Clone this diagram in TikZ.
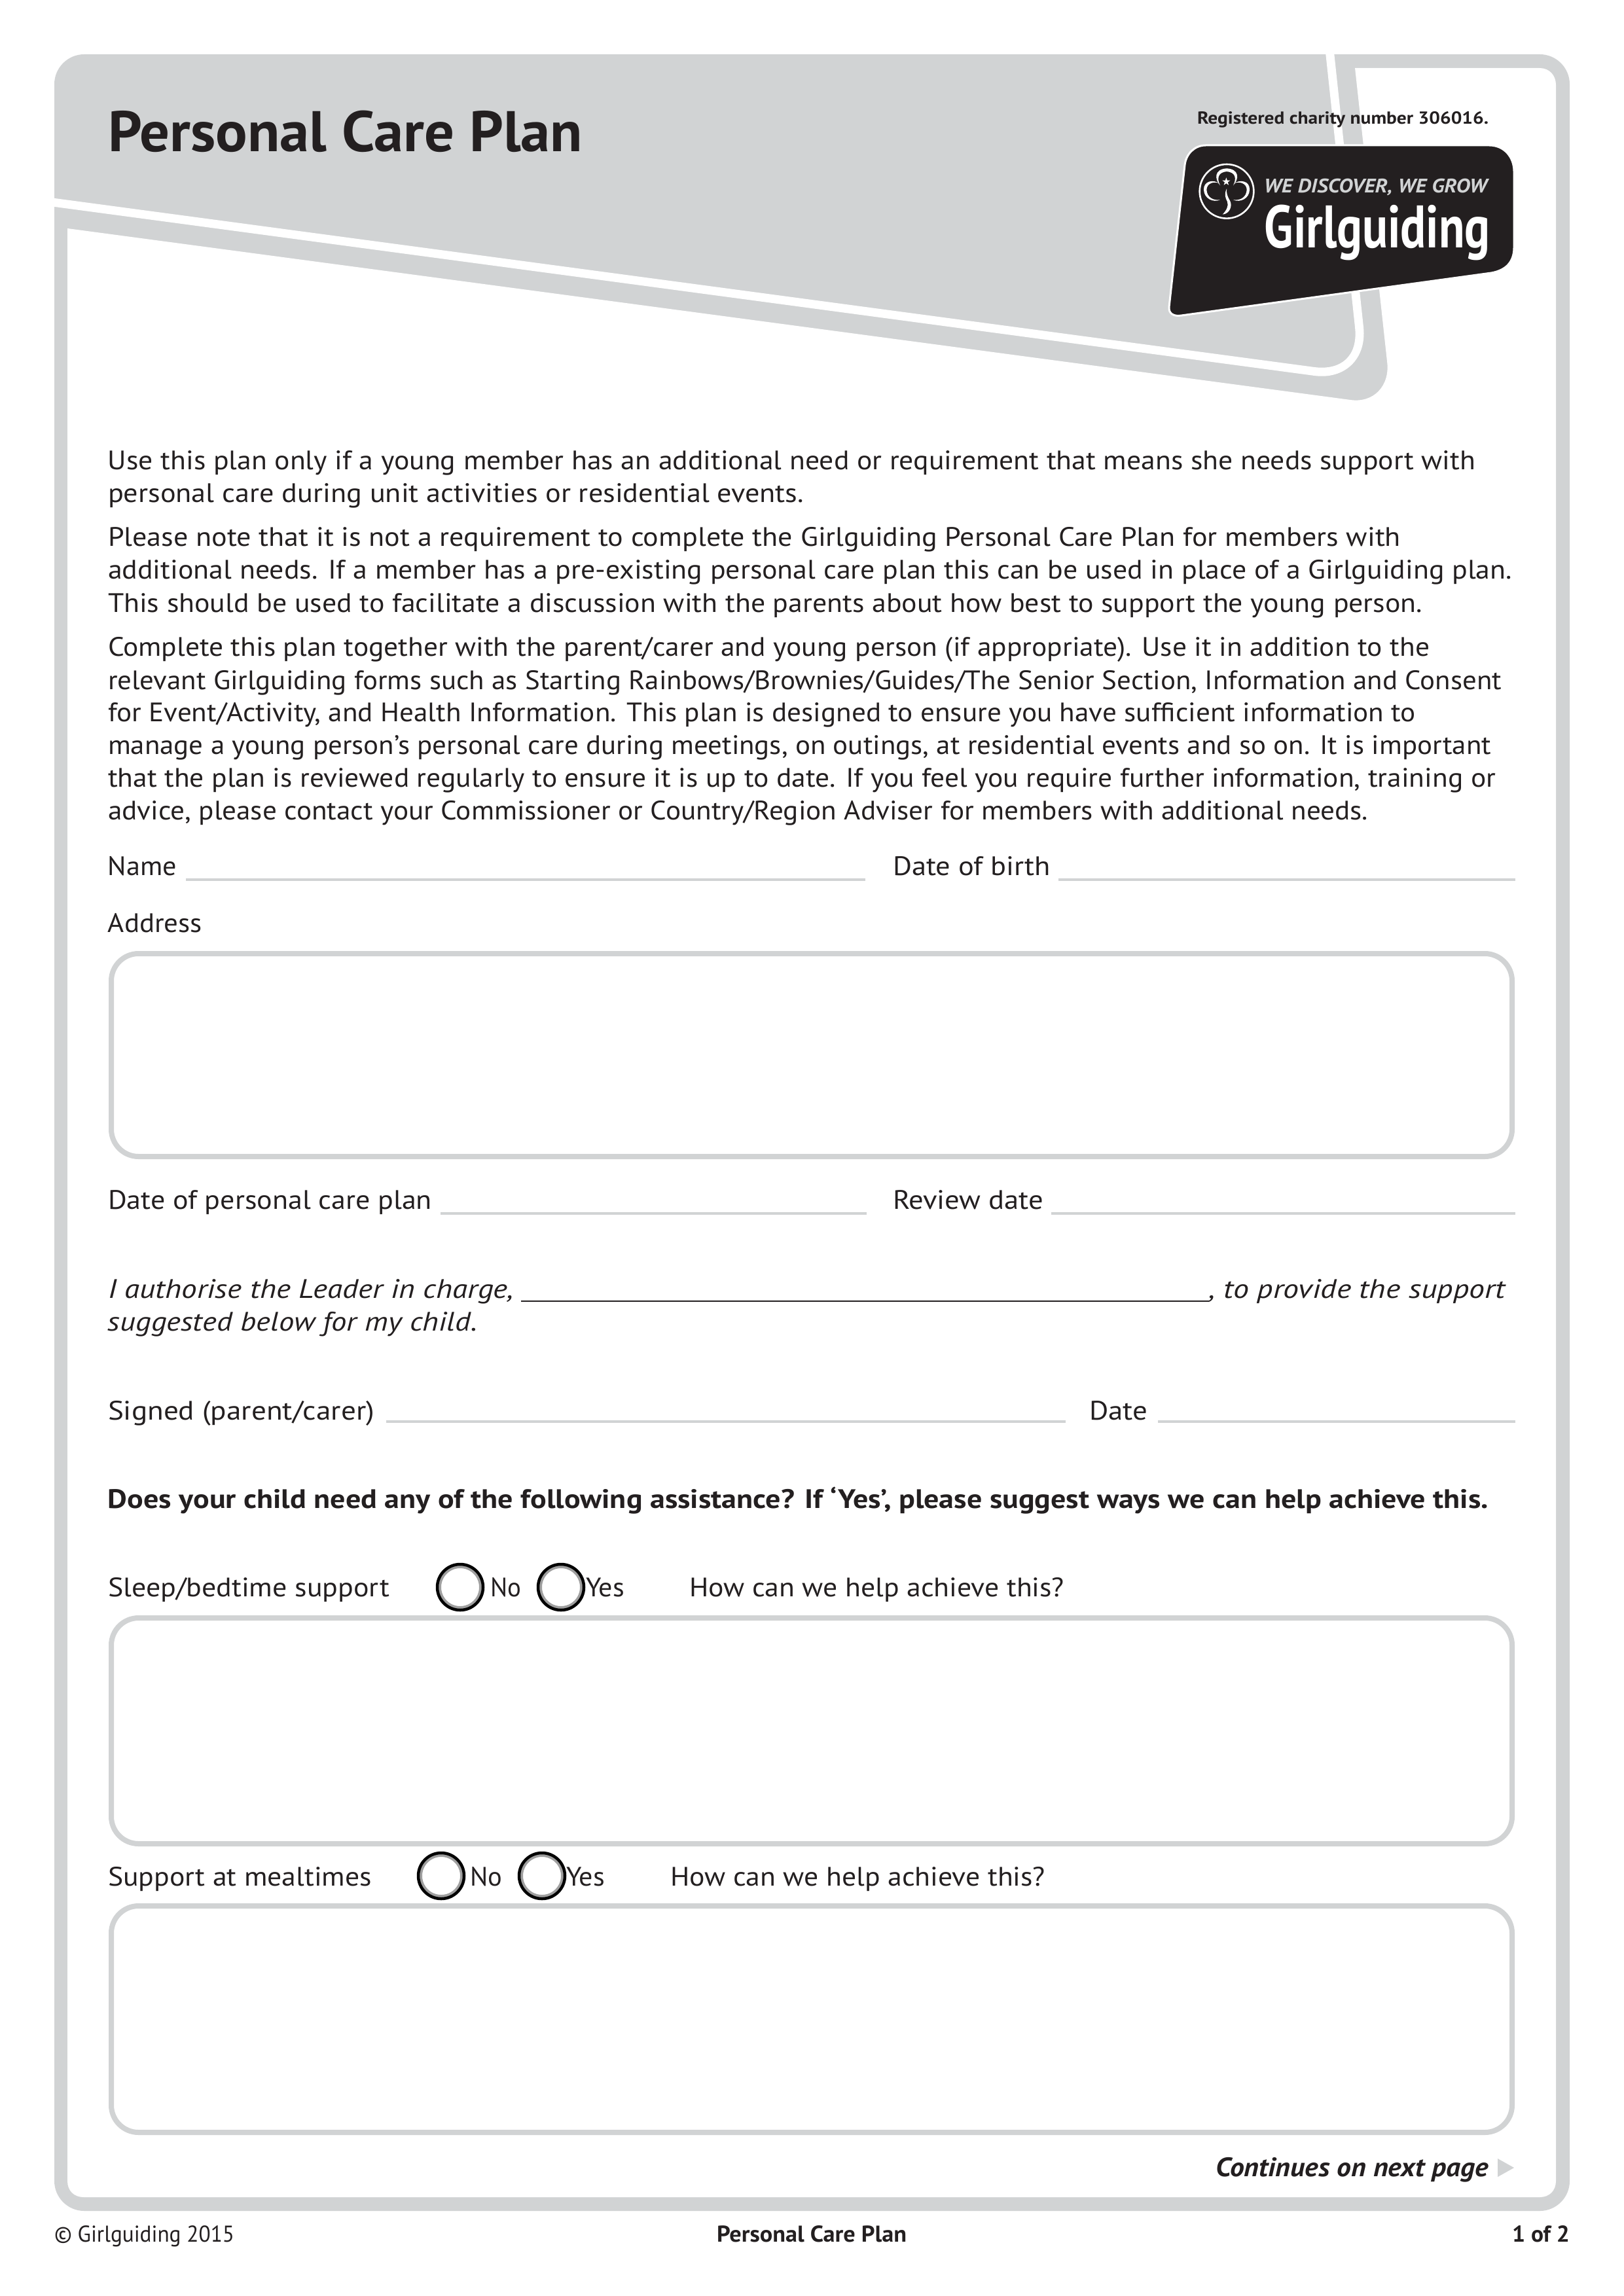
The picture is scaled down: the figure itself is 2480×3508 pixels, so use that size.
\documentclass[tikz,border=0pt]{standalone}
\usepackage{fontspec}
\usepackage{graphicx}
\setmainfont{PT Sans}
\definecolor{gg}{HTML}{D1D3D4}
\definecolor{ink}{HTML}{231F20}
\newdimen\pxu \pxu=.24pt
\newcommand\bodyf{\fontsize{9.8}{12}\selectfont}
\newcommand\boldf{\fontsize{9.8}{12}\selectfont\bfseries}
\newcommand\itf{\fontsize{9.8}{12}\selectfont\itshape}
\newcommand\itbf{\fontsize{9.8}{12}\selectfont\bfseries\itshape}
\newcommand\footf{\fontsize{8.4}{10}\selectfont}
\newcommand\footb{\fontsize{8.4}{10}\selectfont\bfseries}
\tikzset{
  txt/.style={anchor=base west,inner sep=0pt,outer sep=0pt,text=ink},
  box/.style={draw=gg,line width=8\pxu,rounded corners=10pt},
  rule/.style={draw=gg,line width=3.2\pxu},
  darkrule/.style={draw=ink,line width=2.4\pxu},
  ringout/.style={draw=black,line width=4.5\pxu,fill=white},
  ringin/.style={draw=gray!75,line width=4\pxu}
}
% [font]{name}{x}{baseline y}{right x}{text}
\newcommand\tl[6][\bodyf]{\node[txt] (#2) at (#3,#4)
  {\resizebox{\dimexpr#5\pxu-#3\pxu\relax}{\height}{#1#6}};}
\newcommand\radio[3]{\fill[white] (#2,#3) circle (33);
  \draw[ringin] (#2,#3) circle (31);
  \draw[ringout,fill=none] (#2,#3) circle (35);}
\begin{document}
\begin{tikzpicture}[x=.24pt,y=-.24pt]
\useasboundingbox (0,0) rectangle (2480,3508);
\fill[white] (0,0) rectangle (2480,3508);
% frame and banner
\fill[gg,rounded corners=11pt] (83,83) rectangle (2398,3378);
\fill[white] (103,349) -- (2063,611) .. controls (2098,616) and (2124,590) .. (2119,552)
  -- (2070,104) -- (2352,104) .. controls (2367,104) and (2377,115) .. (2377,130)
  -- (2377,3332) .. controls (2377,3347) and (2367,3357) .. (2352,3357)
  -- (128,3357) .. controls (113,3357) and (103,3347) .. (103,3332) -- cycle;
\fill[white] (80,315.5) -- (2008,574) .. controls (2053,580) and (2088,550) .. (2083,500)
  -- (2038,80) -- (2025,80) -- (2070,500) .. controls (2075,545) and (2048,566) .. (2008,561)
  -- (80,302.5) -- cycle;
% logo
\filldraw[fill=ink,draw=white,line width=3\pxu] (1842,222) -- (2275,222)
  .. controls (2298,222) and (2313,240) .. (2313,262) -- (2313,378)
  .. controls (2313,400) and (2301,413) .. (2278,417) -- (1805,482)
  .. controls (1793,484) and (1785,479) .. (1786,469) -- (1810,252)
  .. controls (1812,235) and (1825,222) .. (1842,222) -- cycle;
\begin{scope}[shift={(1820,240)},x=.08pt,y=-.08pt]
  \draw[white,line width=2.6\pxu] (162,157) circle (124);
  \fill[white] (132,130) .. controls (105,100) and (105,55) .. (162,52)
     .. controls (220,55) and (220,100) .. (192,130)
     .. controls (207,100) and (205,70) .. (162,66)
     .. controls (120,70) and (117,100) .. (132,130) -- cycle;
  \fill[white] (130,122) .. controls (100,100) and (55,110) .. (57,150)
     .. controls (58,190) and (100,210) .. (132,196)
     .. controls (100,200) and (72,185) .. (70,150)
     .. controls (70,120) and (105,108) .. (130,122) -- cycle;
  \fill[white] (194,122) .. controls (224,100) and (269,110) .. (267,150)
     .. controls (266,190) and (224,210) .. (192,196)
     .. controls (224,200) and (252,185) .. (254,150)
     .. controls (254,120) and (219,108) .. (194,122) -- cycle;
  \fill[white] (162,145) .. controls (150,170) and (155,185) .. (165,205)
     .. controls (172,225) and (160,245) .. (143,263)
     .. controls (175,260) and (190,225) .. (177,200)
     .. controls (165,180) and (160,165) .. (162,145) -- cycle;
  \fill[white] (160,94) -- (164.4,106.9) -- (178.1,107.1) -- (167.1,115.3) -- (171.2,128.4)
     -- (160,120.5) -- (148.8,128.4) -- (152.9,115.3) -- (141.9,107.1) -- (155.6,106.9) -- cycle;
\end{scope}
\node[anchor=base west,inner sep=0pt,text=gg] (motto) at (1930,295)
  {\resizebox{341\pxu}{\height}{\fontsize{7.2}{8}\selectfont\itshape\bfseries WE DISCOVER, WE GROW}};
\node[anchor=base west,inner sep=0pt,text=white] (brand) at (1931,379)
  {\resizebox{345\pxu}{\height}{\fontsize{22}{24}\selectfont\bfseries Girlguiding}};
\tl[\fontsize{21}{24}\selectfont\bfseries]{title}{165}{232}{890}{Personal Care Plan}
\tl[\fontsize{6.4}{8}\selectfont\bfseries]{charity}{1829}{190}{2274}{Registered charity number 306016.}
% intro
\tl{a1}{165}{718}{2254}{Use this plan only if a young member has an additional need or requirement that means she needs support with}
\tl{a2}{165}{768}{1228}{personal care during unit activities or residential events.}
\tl{b1}{165}{835}{2140}{Please note that it is not a requirement to complete the Girlguiding Personal Care Plan for members with}
\tl{b2}{165}{885}{2310}{additional needs. If a member has a pre-existing personal care plan this can be used in place of a Girlguiding plan.}
\tl{b3}{165}{935}{2173}{This should be used to facilitate a discussion with the parents about how best to support the young person.}
\tl{c1}{165}{1003}{2184}{Complete this plan together with the parent/carer and young person (if appropriate). Use it in addition to the}
\tl{c2}{165}{1053}{2294}{relevant Girlguiding forms such as Starting Rainbows/Brownies/Guides/The Senior Section, Information and Consent}
\tl{c3}{165}{1102}{2163}{for Event/Activity, and Health Information. This plan is designed to ensure you have sufficient information to}
\tl{c4}{165}{1152}{2278}{manage a young person’s personal care during meetings, on outings, at residential events and so on. It is important}
\tl{c5}{165}{1202}{2285}{that the plan is reviewed regularly to ensure it is up to date. If you feel you require further information, training or}
\tl{c6}{165}{1252}{2090}{advice, please contact your Commissioner or Country/Region Adviser for members with additional needs.}
% form
\tl{name}{165}{1337}{270}{Name}
\draw[rule] (284,1344) -- (1322,1344);
\tl{dob}{1364}{1337}{1605}{Date of birth}
\draw[rule] (1617,1344) -- (2315,1344);
\tl{addr}{165}{1424}{309}{Address}
\draw[box] (170,1457) rectangle (2310,1767);
\tl{dpcp}{165}{1847}{660}{Date of personal care plan}
\draw[rule] (673,1854) -- (1324,1854);
\tl{rev}{1364}{1847}{1594}{Review date}
\draw[rule] (1606,1854) -- (2315,1854);
\tl[\itf]{auth1}{165}{1983}{785}{I authorise the Leader in charge,}
\draw[darkrule] (796,1988) -- (1847,1988);
\tl[\itf]{auth2}{1847}{1983}{2299}{, to provide the support}
\tl[\itf]{auth3}{165}{2033}{729}{suggested below for my child.}
\tl{signed}{165}{2169}{572}{Signed (parent/carer)}
\draw[rule] (590,2172) -- (1628,2172);
\tl{sdate}{1664}{2169}{1753}{Date}
\draw[rule] (1769,2172) -- (2315,2172);
\tl[\boldf]{ask}{165}{2304}{2274}{Does your child need any of the following assistance? If ‘Yes’, please suggest ways we can help achieve this.}
% row 1
\tl{sleep}{165}{2439}{595}{Sleep/bedtime support}
\radio{r1}{703}{2425}
\tl{no1}{749}{2439}{796}{No}
\radio{r2}{857}{2425}
\tl{yes1}{895}{2439}{954}{Yes}
\tl{how1}{1053}{2439}{1626}{How can we help achieve this?}
\draw[box] (170,2472) rectangle (2310,2817);
% row 2
\tl{meal}{165}{2881}{568}{Support at mealtimes}
\radio{r3}{674}{2866}
\tl{no2}{718}{2881}{767}{No}
\radio{r4}{828}{2866}
\tl{yes2}{865}{2881}{924}{Yes}
\tl{how2}{1024}{2881}{1597}{How can we help achieve this?}
\draw[box] (170,2912) rectangle (2310,3258);
% foot
\tl[\itbf]{cont}{1857}{3325}{2274}{Continues on next page}
\fill[gg] (2288,3298) -- (2313,3312) -- (2288,3326) -- cycle;
\tl[\footf]{copy}{83}{3425}{358}{© Girlguiding 2015}
\tl[\footb]{foot}{1095}{3425}{1385}{Personal Care Plan}
\tl[\footb]{page}{2310}{3425}{2398}{1 of 2}
\end{tikzpicture}
\end{document}
